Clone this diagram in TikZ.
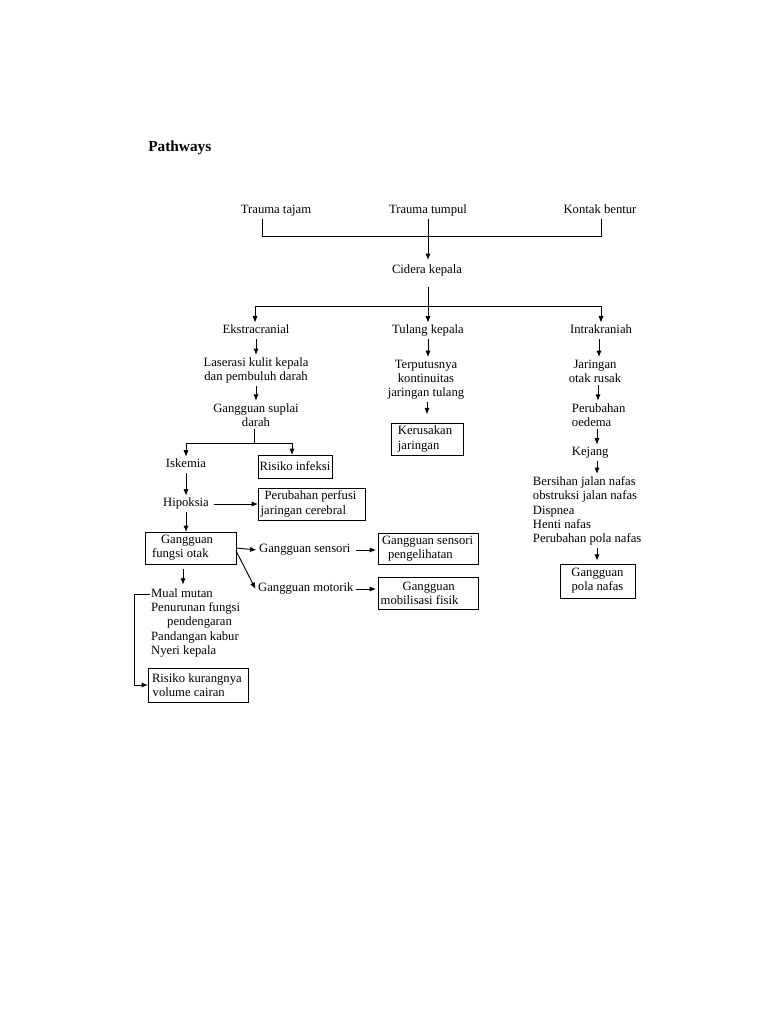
\documentclass[tikz,border=0pt]{standalone}
\usepackage{fontspec}
\setmainfont{Liberation Serif}
\usetikzlibrary{arrows.meta}
\newcommand\fs{\fontsize{9.5}{10.7}\selectfont}
\begin{document}
\begin{tikzpicture}[x=0.75pt,y=-0.75pt,
 txt/.style={inner sep=0pt,outer sep=2pt,font=\fs,align=center},
 one/.style={txt,text height=6.2pt,text depth=2.4pt},
 bx/.style={draw,line width=0.7pt,inner xsep=2pt,inner ysep=0pt,outer sep=0pt,font=\fs,align=flush left},
 ln/.style={line width=0.7pt},
 arr/.style={line width=0.7pt,-{Latex[length=4.8pt,width=3.9pt]}}]
\useasboundingbox[fill=white] (0,0) rectangle (768,1024);

\node[anchor=west,inner sep=0pt,font=\fontsize{11.5}{13}\selectfont\bfseries] (title) at (148,148) {Pathways};

% top
\node[one] (tajam) at (276,211) {Trauma tajam};
\node[one] (tumpul) at (428,211) {Trauma tumpul};
\node[one] (kontak) at (600,211) {Kontak bentur};
\coordinate (j1) at (262,236);
\coordinate (j2) at (601,236);
\draw[ln] (tajam.south -| j1) -- (j1) -- (j2) -- (kontak.south -| j2);
\node[one] (cidera) at (427,271) {Cidera kepala};
\draw[arr,shorten >=2pt] (tumpul.south) -- (tumpul.south |- cidera.north);

\coordinate (b) at (428,306);
\coordinate (bl) at (255,306);
\coordinate (br) at (601,306);
\draw[ln,shorten <=6pt] (cidera.south -| b) -- (b);
\draw[ln] (bl) -- (br);
\node[one] (ekstra) at (256,331) {Ekstracranial};
\node[one] (tulang) at (428,331) {Tulang kepala};
\node[one] (intra) at (601,331) {Intrakraniah};
\draw[arr] (bl) -- (ekstra.north -| bl);
\draw[arr] (b) -- (tulang.north -| b);
\draw[arr] (br) -- (intra.north -| br);

% left column
\node[txt] (laserasi) at (256,370.5) {Laserasi kulit kepala\\dan pembuluh darah};
\draw[arr] (ekstra.south) -- (ekstra.south |- laserasi.north);
\node[txt] (suplai) at (256,415) {Gangguan suplai\\darah};
\draw[arr] (laserasi.south) -- (laserasi.south |- suplai.north);
\coordinate (c) at (254,443);
\coordinate (cl) at (186,443);
\coordinate (cr) at (292,443);
\draw[ln] (suplai.south -| c) -- (c);
\draw[ln] (cl) -- (cr);
\node[one] (iskemia) at (186,465) {Iskemia};
\node[bx,minimum height=17.25pt,minimum width=55.5pt,inner xsep=1pt,align=center] (infeksi) at (295,466.5) {Risiko infeksi};
\draw[arr] (cl) -- (iskemia.north -| cl);
\draw[arr] (cr) -- (infeksi.north -| cr);
\node[one] (hipoksia) at (186,504) {Hipoksia};
\draw[arr] (iskemia) -- (hipoksia);
\node[bx,minimum height=24pt,text width=76.25pt] (perfusi) at (311.5,504) {\hspace*{3pt}Perubahan perfusi\\jaringan cerebral};
\draw[arr,shorten <=1.5pt] (hipoksia.east) -- (hipoksia.east -| perfusi.west);

\node[bx,minimum height=24pt,text width=64.25pt] (fungsi) at (190.5,548) {\hspace*{10pt}Gangguan\\\hspace*{3.3pt}fungsi otak};
\draw[arr] (hipoksia.south) -- (hipoksia.south |- fungsi.north);

\node[one,anchor=west] (sensori) at (256.5,550) {Gangguan sensori};
\draw[arr] (fungsi.east) -- (sensori.west);
\node[bx,minimum height=23.25pt,text width=71pt] (pengl) at (428,548.5) {\hspace*{1pt}Gangguan sensori\\\hspace*{5.5pt}pengelihatan};
\draw[arr,shorten <=2pt,shorten >=1.5pt] (sensori.east) -- (sensori.east -| pengl.west);

\node[one,anchor=west] (motorik) at (255.5,589) {Gangguan motorik};
\draw[arr] ([yshift=-2pt]fungsi.east) -- (motorik.west);
\node[bx,minimum height=24pt,text width=71pt] (mobil) at (428,593) {\hspace*{16.5pt}Gangguan\\mobilisasi fisik};
\draw[arr,shorten >=1.5pt] (motorik.east) -- (motorik.east -| mobil.west);

\node[txt,align=left,anchor=north west] (gejala) at (148.5,586) {Mual mutan\\Penurunan fungsi\\\hspace*{12pt}pendengaran\\Pandangan kabur\\Nyeri kepala};
\coordinate (f1) at (183,0);
\draw[arr,shorten <=4pt,shorten >=1pt] (fungsi.south -| f1) -- (gejala.north -| f1);
\coordinate (mualL) at (150,594);
\node[bx,minimum height=25.5pt,text width=71pt] (kurang) at (198,685) {\hspace*{1pt}Risiko kurangnya\\\hspace*{1.5pt}volume cairan};
\draw[arr] (mualL) -- ++(-16,0) |- (kurang.west);

% middle column
\node[txt] (terput) at (426,379.5) {Terputusnya\\kontinuitas\\jaringan tulang};
\draw[arr] (tulang.south) -- (tulang.south |- terput.north);
\node[bx,minimum height=24pt,text width=50pt] (kerus) at (427,439) {\hspace*{3.2pt}Kerusakan\\\hspace*{3.2pt}jaringan};
\draw[arr,shorten >=6.5pt] (terput.south -| kerus) -- (kerus.north);

% right column
\node[txt] (jar) at (595,371) {Jaringan\\otak rusak};
\coordinate (r1) at (599,0);
\draw[arr] (intra.south -| r1) -- (jar.north -| r1);
\node[txt,align=left,anchor=west] (oedema) at (569.3,415) {Perubahan\\oedema};
\coordinate (r2) at (598,0);
\draw[arr] (jar.south -| r2) -- (oedema.north -| r2);
\node[one,anchor=west] (kejang) at (569.3,453) {Kejang};
\coordinate (r3) at (597,0);
\draw[arr] (oedema.south -| r3) -- (kejang.north -| r3);
\node[txt,align=left,anchor=west] (nafas) at (530.3,511) {Bersihan jalan nafas\\obstruksi jalan nafas\\Dispnea\\Henti nafas\\Perubahan pola nafas};
\draw[arr] (kejang.south -| r3) -- (nafas.north -| r3);
\node[bx,minimum height=25.5pt,text width=52.25pt,align=flush center] (pola) at (597.5,581) {Gangguan\\pola nafas};
\draw[arr,shorten >=2.5pt] (nafas.south -| r3) -- (pola.north -| r3);
\end{tikzpicture}
\end{document}
